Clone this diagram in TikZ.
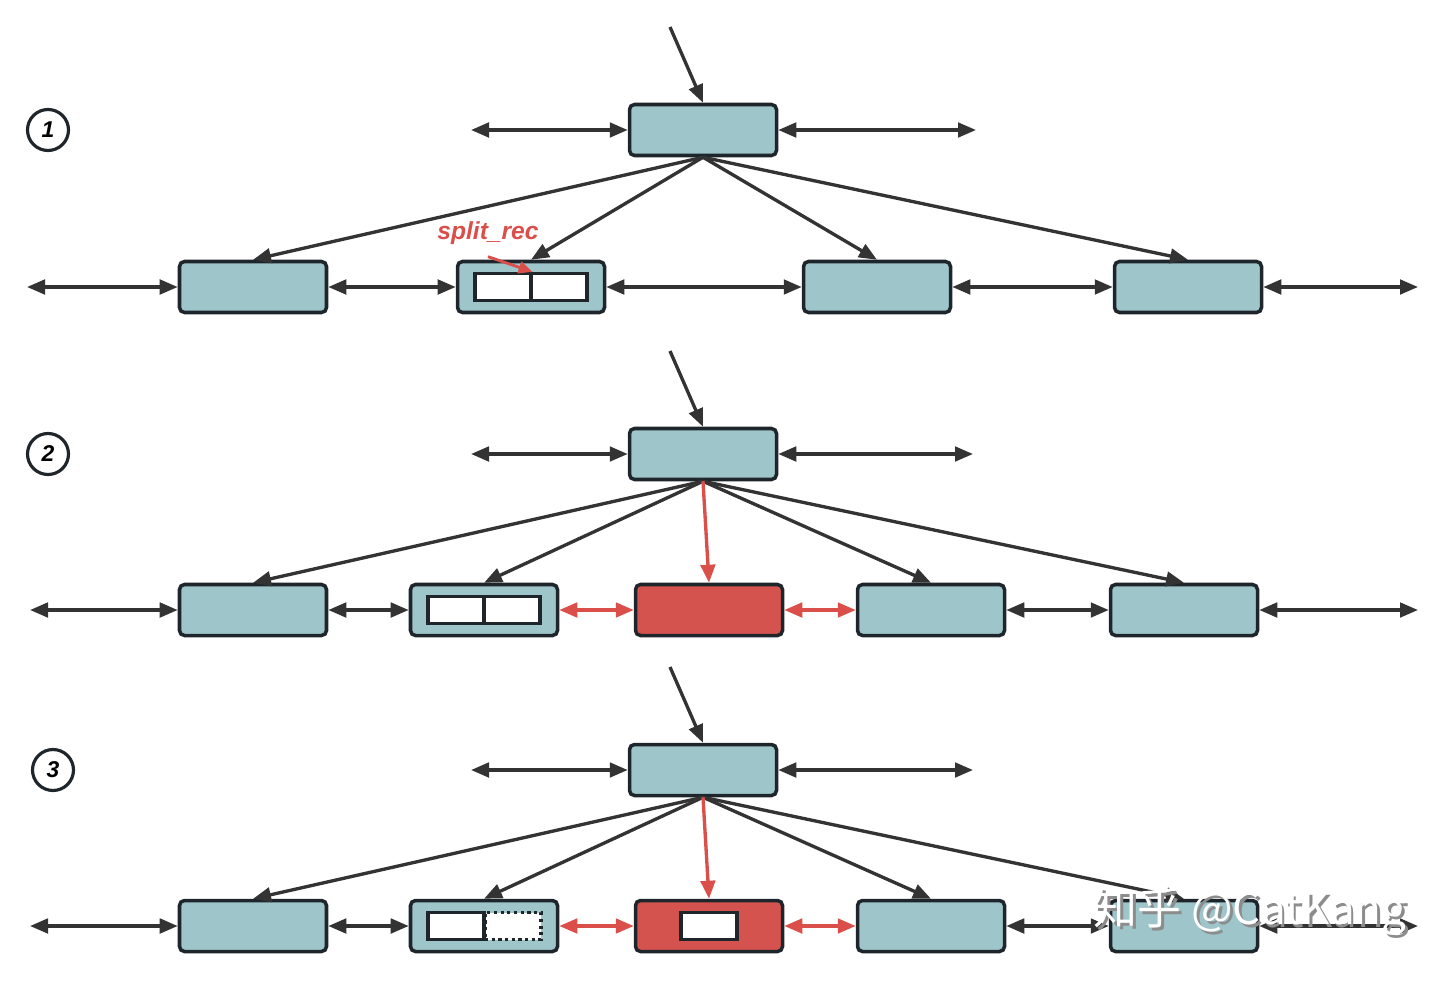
\documentclass[tikz,border=0pt]{standalone}
\usepackage{fontspec}
\newfontfamily\notefont{Liberation Sans}
\newfontfamily\cjkfont{Noto Sans CJK SC}
\usetikzlibrary{arrows.meta}
\definecolor{pagefill}{HTML}{9DC5CA}
\definecolor{newfill}{HTML}{D5534F}
\definecolor{edgeblack}{HTML}{1E262C}
\definecolor{linkgray}{HTML}{333333}
\definecolor{splitred}{HTML}{DB4F4B}
\newcommand{\marktext}{知乎 @CatKang}

\begin{document}
\begin{tikzpicture}[
      x = 0.2mm, y = -0.2mm,
      link/.style={{Triangle[length = 3.6mm, width = 2.9mm]}-{Triangle[length = 3.6mm, width = 2.9mm]},
        line width = 1.9pt, draw = linkgray},
      ptr/.style={-{Triangle[length = 3.6mm, width = 2.9mm]}, line width = 1.9pt, draw = linkgray},
      red link/.style={link, draw = splitred, fill = splitred},
      red ptr/.style={ptr, draw = splitred},
      page/.style={
        draw = edgeblack,
        line width = 2pt,
        rounded corners = 1mm,
        fill = pagefill,
        minimum width = 29.4mm,
        minimum height = 10.2mm,
        inner sep = 0pt,
      },
      new page/.style={page, fill = newfill},
      cell/.style={
        draw = edgeblack,
        fill = white,
        line width = 1.8pt,
        minimum width = 11.2mm,
        minimum height = 5.4mm,
        inner sep = 0pt,
      },
      moved cell/.style={cell, dotted, line width = 1.9pt},
      stepno/.style={
        circle,
        draw = edgeblack,
        line width = 1.8pt,
        minimum size = 8.2mm,
        inner sep = 0pt,
        font = \notefont\bfseries\itshape\fontsize{13}{13}\selectfont,
      },
    ]
    \useasboundingbox (0, 0) rectangle (1440, 980);

    % step 1
    \node[stepno] (no1) at (48, 130) {1};
    \node[page] (top1) at (703, 130) {};
    \node[page] (a1) at (253, 287) {};
    \node[page] (b1) at (531, 287) {};
    \node[page] (c1) at (877, 287) {};
    \node[page] (d1) at (1188, 287) {};
    \node[cell] (b1l) at (503, 287) {};
    \node[cell] (b1r) at (559, 287) {};
    \node[font = \notefont\bfseries\itshape\fontsize{14}{14}\selectfont, text = splitred]
      (rec) at (488, 233) {split\_rec};

    \coordinate (in1) at (670, 27);
    \coordinate (tl1) at (471, 130);
    \coordinate (tr1) at (976, 130);
    \coordinate (l1) at (27, 287);
    \coordinate (r1) at (1418, 287);

    \draw[ptr] (in1) -- (top1.north);
    \draw[link] (tl1) -- (top1);
    \draw[link] (top1) -- (tr1);
    \draw[link] (l1) -- (a1);
    \draw[link] (a1) -- (b1);
    \draw[link] (b1) -- (c1);
    \draw[link] (c1) -- (d1);
    \draw[link] (d1) -- (r1);
    \foreach \leaf in {a1, b1, c1, d1}
      \draw[ptr] (top1.south) -- (\leaf.north);
    \draw[-{Triangle[length = 2.8mm, width = 2.4mm]}, line width = 1.6pt, draw = splitred]
      (rec.south) ++(0, 6) -- (b1l.north east);

    % step 2
    \node[stepno] (no2) at (48, 454) {2};
    \node[page] (top2) at (703, 454) {};
    \node[page] (a2) at (253, 610) {};
    \node[page] (b2) at (484, 610) {};
    \node[new page] (n2) at (709, 610) {};
    \node[page] (c2) at (931, 610) {};
    \node[page] (d2) at (1184, 610) {};
    \node[cell] (b2l) at (456, 610) {};
    \node[cell] (b2r) at (512, 610) {};

    \coordinate (in2) at (670, 351);
    \coordinate (tl2) at (471, 454);
    \coordinate (tr2) at (973, 454);
    \coordinate (l2) at (30, 610);
    \coordinate (r2) at (1418, 610);

    \draw[ptr] (in2) -- (top2.north);
    \draw[link] (tl2) -- (top2);
    \draw[link] (top2) -- (tr2);
    \draw[link] (l2) -- (a2);
    \draw[link] (a2) -- (b2);
    \draw[red link] (b2) -- (n2);
    \draw[red link] (n2) -- (c2);
    \draw[link] (c2) -- (d2);
    \draw[link] (d2) -- (r2);
    \foreach \leaf in {a2, b2, c2, d2}
      \draw[ptr] (top2.south) -- (\leaf.north);
    \draw[red ptr] (top2.south) -- (n2.north);

    % step 3
    \node[stepno] (no3) at (53, 770) {3};
    \node[page] (top3) at (703, 770) {};
    \node[page] (a3) at (253, 926) {};
    \node[page] (b3) at (484, 926) {};
    \node[new page] (n3) at (709, 926) {};
    \node[page] (c3) at (931, 926) {};
    \node[page] (d3) at (1184, 926) {};
    \node[moved cell] (b3r) at (513, 926) {};
    \node[cell] (b3l) at (456, 926) {};
    \node[cell] (n3c) at (709, 926) {};

    \coordinate (in3) at (670, 667);
    \coordinate (tl3) at (471, 770);
    \coordinate (tr3) at (973, 770);
    \coordinate (l3) at (30, 926);
    \coordinate (r3) at (1418, 926);

    \draw[ptr] (in3) -- (top3.north);
    \draw[link] (tl3) -- (top3);
    \draw[link] (top3) -- (tr3);
    \draw[link] (l3) -- (a3);
    \draw[link] (a3) -- (b3);
    \draw[red link] (b3) -- (n3);
    \draw[red link] (n3) -- (c3);
    \draw[link] (c3) -- (d3);
    \draw[link] (d3) -- (r3);
    \foreach \leaf in {a3, b3, c3, d3}
      \draw[ptr] (top3.south) -- (\leaf.north);
    \draw[red ptr] (top3.south) -- (n3.north);

    \node[font = \cjkfont\fontsize{25}{25}\selectfont, text = white] (mark) at (1250, 913)
      {\makebox[0pt][l]{\kern1.6pt\raisebox{-1.6pt}{\textcolor{black!45}{\marktext}}}\marktext};
  \end{tikzpicture}
\end{document}
